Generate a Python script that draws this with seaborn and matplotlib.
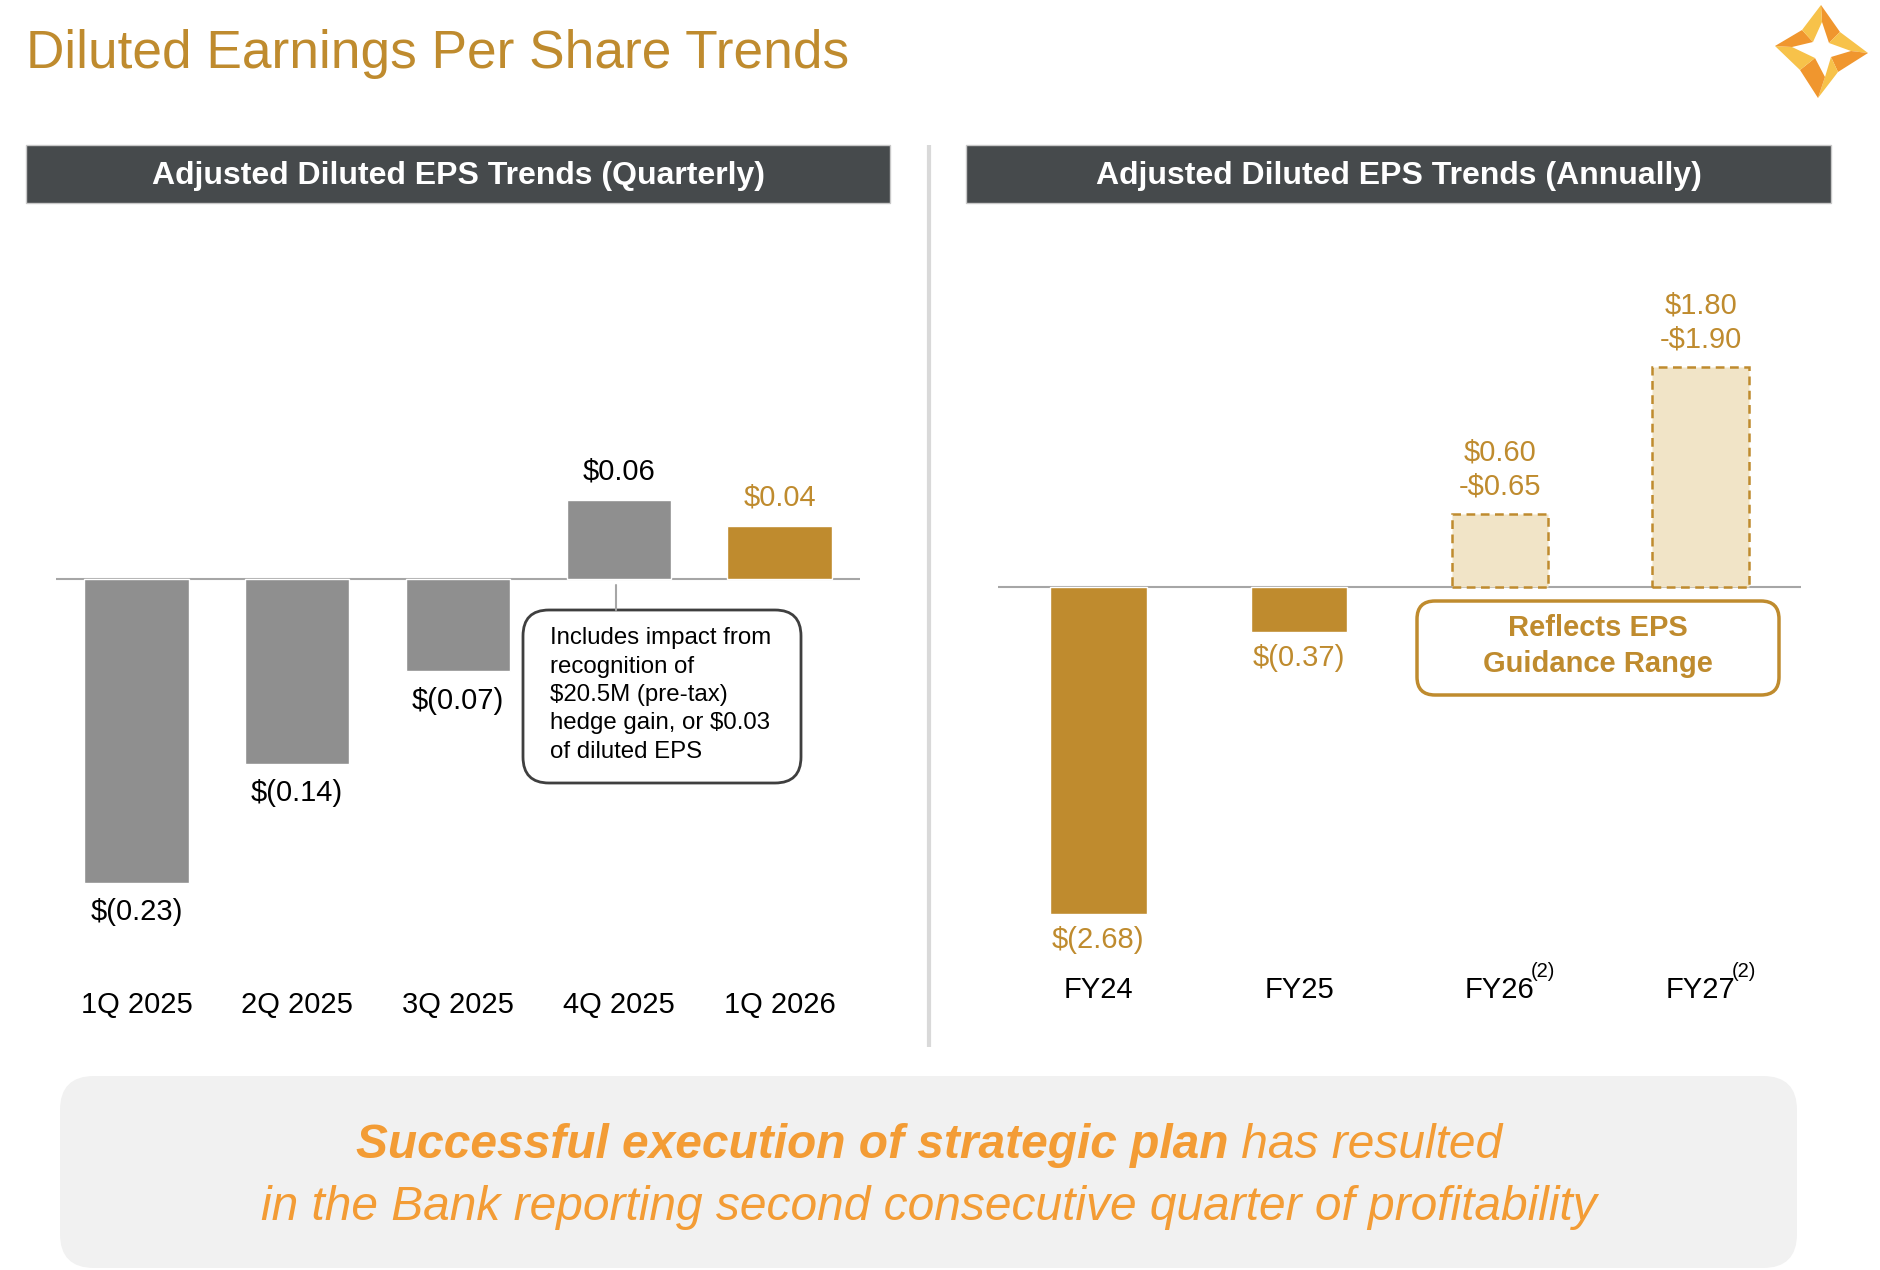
import numpy as np
import pandas as pd
import seaborn as sns
import matplotlib.pyplot as plt
from matplotlib.patches import FancyBboxPatch, Rectangle, Polygon

# Data
quarters = ['1Q 2025', '2Q 2025', '3Q 2025', '4Q 2025', '1Q 2026']
quarter_eps = [-0.23, -0.14, -0.07, 0.06, 0.04]
quarter_labels = ['$(0.23)', '$(0.14)', '$(0.07)', '$0.06', '$0.04']

years = ['FY24', 'FY25', 'FY26', 'FY27']
year_eps = [-2.68, -0.37, 0.60, 1.80]
year_labels = ['$(2.68)', '$(0.37)', '$0.60\n-$0.65', '$1.80\n-$1.90']
guidance_years = ['FY26', 'FY27']

gold = '#BF8B2E'
light_gold = '#F1E4C7'
gray = '#8F8F8F'
orange = '#F39C35'
header_col = '#464A4C'

sns.set_style('white')
plt.rcParams['font.family'] = ['Liberation Sans', 'DejaVu Sans']

W, H = 1880, 1270
fig = plt.figure(figsize=(W / 100, H / 100), dpi=100)

# Overlay axes in pixel units for the slide furniture
bg = fig.add_axes([0, 0, 1, 1], zorder=0)
bg.set_xlim(0, W)
bg.set_ylim(H, 0)
bg.axis('off')

bg.text(26, 68, 'Diluted Earnings Per Share Trends', fontsize=38.3, color=gold, va='baseline', ha='left')

# logo: four pointed ribbon star
outer = [(1821, 5), (1840, 32), (1868, 53), (1838, 72), (1818, 98), (1800, 70), (1775, 46), (1802, 30)]
inner = [(1822, 22), (1829, 43), (1851, 51), (1831, 57), (1825, 77), (1815, 58), (1792, 47), (1813, 42)]
for k in range(8):
    quad = [outer[k], outer[(k + 1) % 8], inner[(k + 1) % 8], inner[k]]
    bg.add_patch(Polygon(quad, closed=True, fc='#F0962E' if k % 2 == 0 else '#F7C24A', ec='none'))

# panel headers
for x0, w, txt in [(26, 864, 'Adjusted Diluted EPS Trends (Quarterly)'),
                   (966, 865, 'Adjusted Diluted EPS Trends (Annually)')]:
    bg.add_patch(Rectangle((x0, 145), w, 58, fc=header_col, ec='#C8C8C8', lw=1))
    bg.text(x0 + w / 2, 176, txt, color='white', fontsize=23, fontweight='bold', ha='center', va='center')

bg.plot([929, 929], [145, 1047], color='#D9D9D9', lw=3, solid_capstyle='butt')

# callout boxes
bg.plot([616, 616], [585, 610], color='#A6A6A6', lw=1.5)
bg.add_patch(FancyBboxPatch((523, 610), 278, 173, boxstyle='round,pad=0,rounding_size=26',
                            fc='white', ec='#3F3F3F', lw=2))
bg.text(550, 695, 'Includes impact from\nrecognition of\n\\$20.5M (pre-tax)\nhedge gain, or \\$0.03\nof diluted EPS',
        fontsize=17.3, color='black', ha='left', va='center', linespacing=1.38)

bg.add_patch(FancyBboxPatch((1417, 601), 362, 94, boxstyle='round,pad=0,rounding_size=18',
                            fc='white', ec=gold, lw=2.5))
bg.text(1598, 646, 'Reflects EPS\nGuidance Range', fontsize=21, fontweight='bold', color=gold,
        ha='center', va='center', linespacing=1.36)

# bottom banner
bg.add_patch(FancyBboxPatch((60, 1076), 1737, 192, boxstyle='round,pad=0,rounding_size=34',
                            fc='#F1F1F1', ec='none'))
t1 = bg.text(0, 1145, 'Successful execution of strategic plan', fontsize=34.5, fontweight='bold',
             style='italic', color=orange, ha='left', va='center')
t2 = bg.text(0, 1145, ' has resulted', fontsize=34.5, style='italic', color=orange, ha='left', va='center')
bg.text(929, 1207, 'in the Bank reporting second consecutive quarter of profitability', fontsize=34.5,
        style='italic', color=orange, ha='center', va='center')


def style_axes(ax):
    for s in ax.spines.values():
        s.set_visible(False)
    ax.set_facecolor('none')
    ax.set_yticks([])
    ax.set_xlabel('')
    ax.set_ylabel('')
    ax.axhline(0, color='#A6A6A6', lw=1.5, zorder=0.5)
    ax.tick_params(axis='x', length=0, labelsize=21, labelcolor='black')


# Quarterly panel
ax1 = fig.add_axes([56 / W, 1 - 985 / H, 804 / W, 755 / H], zorder=1)
df_q = pd.DataFrame({'quarter': quarters, 'eps': quarter_eps})
pal_q = {q: (gold if q == quarters[-1] else gray) for q in quarters}
sns.barplot(data=df_q, x='quarter', y='eps', hue='quarter', palette=pal_q, width=0.65,
            saturation=1, legend=False, ax=ax1)
style_axes(ax1)
ax1.set_xlim(-0.5, 4.5)
ax1.set_ylim(-(985 - 579) / 1320, (579 - 230) / 1320)
ax1.tick_params(axis='x', pad=4)
for i, (v, lab) in enumerate(zip(quarter_eps, quarter_labels)):
    off = 20.5 if v > 0 else -21
    ax1.annotate(lab.replace('$', r'\$'), xy=(i, v), xytext=(0, off), textcoords='offset points',
                 ha='center', va='center', fontsize=21,
                 color=gold if quarters[i] == quarters[-1] else 'black')

# Annual panel
ax2 = fig.add_axes([998 / W, 1 - 970 / H, 803 / W, 740 / H], zorder=1)
df_y = pd.DataFrame({'year': years, 'eps': year_eps})
sns.barplot(data=df_y, x='year', y='eps', color=gold, width=0.48, saturation=1, ax=ax2)
style_axes(ax2)
ax2.set_xlim(-0.5, 3.5)
ax2.set_ylim(-(970 - 587) / 122, (587 - 230) / 122)
ax2.tick_params(axis='x', pad=4)
bars = sorted(ax2.patches, key=lambda p: p.get_x())
for yr, p in zip(years, bars):
    if yr in guidance_years:
        p.set_facecolor(light_gold)
        p.set_edgecolor(gold)
        p.set_linewidth(1.8)
        p.set_linestyle((0, (3.5, 2.2)))
for i, (v, lab) in enumerate(zip(year_eps, year_labels)):
    if years[i] in guidance_years:
        off = 32
    else:
        off = 18.5 if v > 0 else -18.5
    ax2.annotate(lab.replace('$', r'\$'), xy=(i, v), xytext=(0, off), textcoords='offset points',
                 ha='center', va='center', fontsize=21, color=gold, linespacing=1.27)

for lab in ax2.get_xticklabels():
    if lab.get_text() in guidance_years:
        ax2.annotate('(2)', xy=(1, 1), xycoords=lab, xytext=(-3, 3), textcoords='offset points',
                     ha='left', va='center', fontsize=14.5, color='black')

# centre the mixed-weight first banner line
fig.canvas.draw()
r = fig.canvas.get_renderer()
w1 = t1.get_window_extent(r).width
w2 = t2.get_window_extent(r).width
x0 = 929 - (w1 + w2) / 2
t1.set_x(x0)
t2.set_x(x0 + w1)

fig.savefig('out.png', dpi=100)
